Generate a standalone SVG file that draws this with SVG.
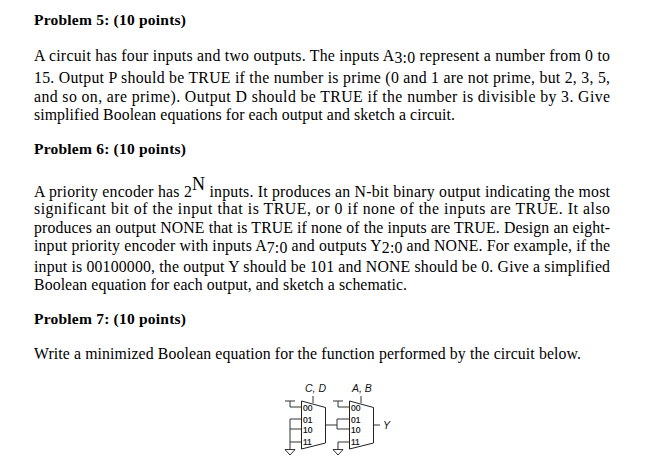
<svg xmlns="http://www.w3.org/2000/svg" width="670" height="469" viewBox="0 0 670 469">
<style>
text{font-family:"Liberation Serif","Times New Roman",serif;font-size:15.8px;fill:#000}
.h{font-weight:bold;font-size:15.5px}
.s{font-family:"Liberation Sans",Arial,sans-serif;font-size:8.5px;fill:#111;stroke:#111;stroke-width:.2}
.l{font-family:"Liberation Sans",Arial,sans-serif;font-size:10.5px;font-style:italic;fill:#111}
.w{fill:none;stroke:#333;stroke-width:1}
.m{fill:#fff;stroke:#222;stroke-width:1}
</style>
<rect width="670" height="469" fill="#fff"/>
<g id="text">
<text class="h" x="34" y="25" textLength="152" lengthAdjust="spacing">Problem 5: (10 points)</text>
<text x="34" y="61" textLength="576" lengthAdjust="spacing">A circuit has four inputs and two outputs. The inputs A<tspan dy="2">3:0</tspan><tspan dy="-2"> represent a number from 0 to</tspan></text>
<text x="34" y="83" textLength="576" lengthAdjust="spacing">15. Output P should be TRUE if the number is prime (0 and 1 are not prime, but 2, 3, 5,</text>
<text x="34" y="102" textLength="576" lengthAdjust="spacing">and so on, are prime). Output D should be TRUE if the number is divisible by 3. Give</text>
<text x="34" y="120" textLength="421" lengthAdjust="spacing">simplified Boolean equations for each output and sketch a circuit.</text>
<text class="h" x="34" y="154" textLength="152" lengthAdjust="spacing">Problem 6: (10 points)</text>
<text x="34" y="197" textLength="576" lengthAdjust="spacing">A priority encoder has 2<tspan dy="-7" font-size="18">N</tspan><tspan dy="7"> inputs. It produces an N-bit binary output indicating the most</tspan></text>
<text x="34" y="214" textLength="576" lengthAdjust="spacing">significant bit of the input that is TRUE, or 0 if none of the inputs are TRUE. It also</text>
<text x="34" y="233" textLength="576" lengthAdjust="spacing">produces an output NONE that is TRUE if none of the inputs are TRUE. Design an eight-</text>
<text x="34" y="251" textLength="576" lengthAdjust="spacing">input priority encoder with inputs A<tspan dy="2">7:0</tspan><tspan dy="-2"> and outputs Y</tspan><tspan dy="2">2:0</tspan><tspan dy="-2"> and NONE. For example, if the</tspan></text>
<text x="34" y="272" textLength="576" lengthAdjust="spacing">input is 00100000, the output Y should be 101 and NONE should be 0. Give a simplified</text>
<text x="34" y="290" textLength="373" lengthAdjust="spacing">Boolean equation for each output, and sketch a schematic.</text>
<text class="h" x="34" y="324" textLength="152" lengthAdjust="spacing">Problem 7: (10 points)</text>
<text x="34" y="359" textLength="547" lengthAdjust="spacing">Write a minimized Boolean equation for the function performed by the circuit below.</text>
</g>
<g id="connectors">
<path class="w" d="M285 401H295M290 401V407H302M290 419H302M290 429H302M290 419V442M290 442V449M290 442H302"/>
<path class="w" d="M313 403V396M361 403V396M325 425H337M337 419V429M337 419H350M337 429H350M373 425H380"/>
<path class="w" d="M333 401H343M338 401V407H350M338 442H350M338 442V449"/>
<path class="w" d="M285 449.500H295L290 455Z"/>
<path class="w" d="M333 449.500H343L338 455Z"/>
</g>
<g id="mux1">
<path class="m" d="M301.500 401L325.500 407.500V443L301.500 449Z"/>
<text class="s" x="303" y="411">00</text><text class="s" x="303" y="423">01</text><text class="s" x="303" y="433">10</text><text class="s" x="303" y="445">11</text>
</g>
<g id="mux2">
<path class="m" d="M349.500 401L373.500 407.500V443L349.500 449Z"/>
<text class="s" x="351" y="411">00</text><text class="s" x="351" y="423">01</text><text class="s" x="351" y="433">10</text><text class="s" x="351" y="445">11</text>
</g>
<g id="labels">
<text class="l" x="305" y="392">C, D</text>
<text class="l" x="352" y="392">A, B</text>
<text class="l" x="383" y="429">Y</text>
</g>
</svg>
